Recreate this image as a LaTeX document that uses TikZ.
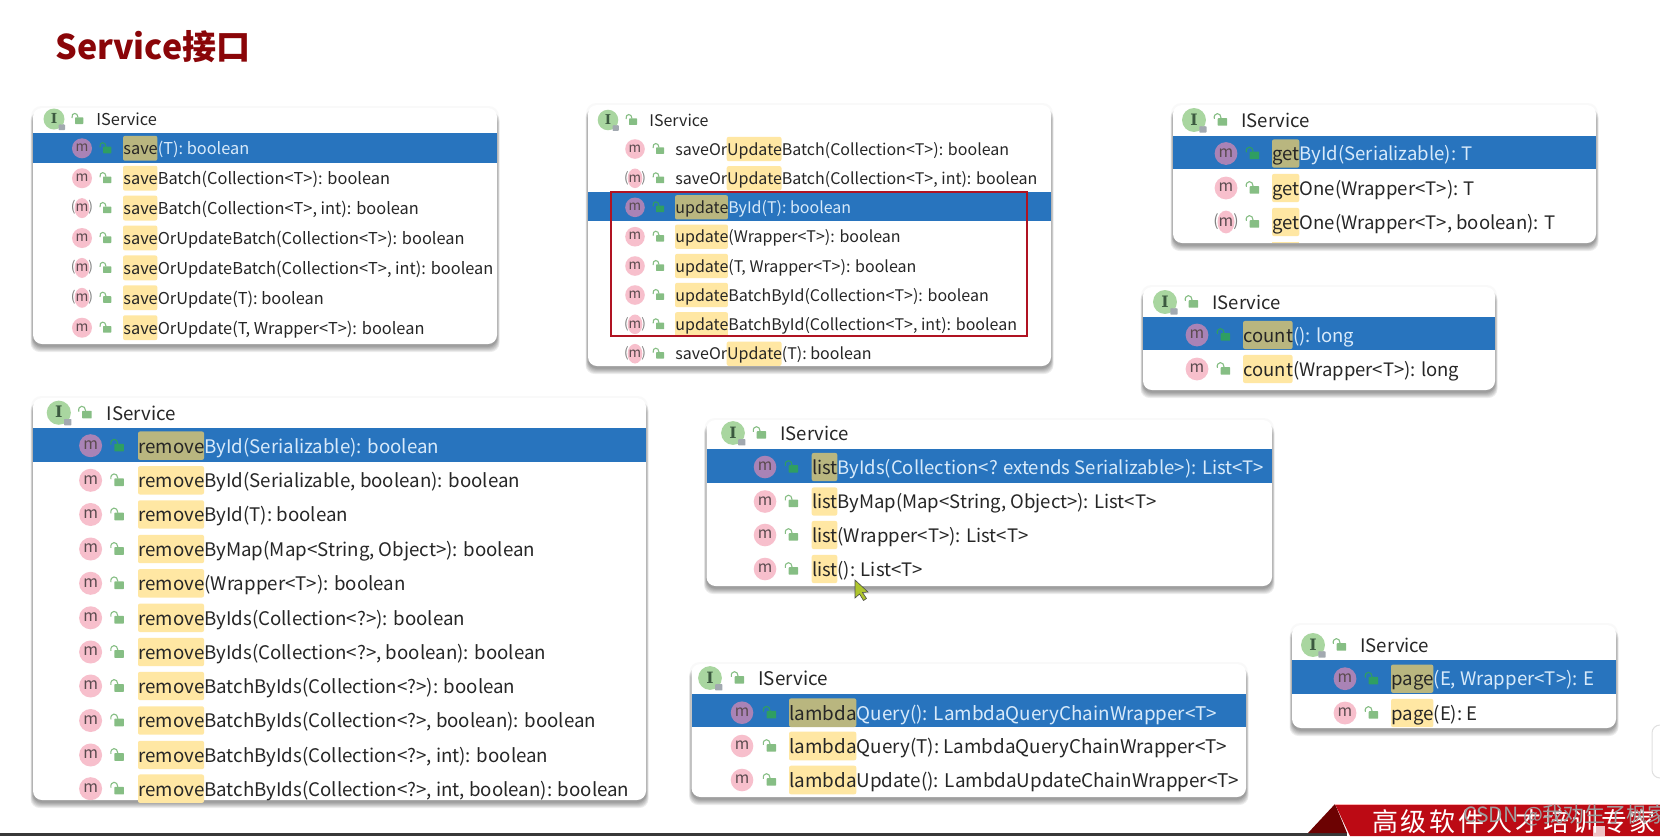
\documentclass[tikz,border=0pt]{standalone}
\usepackage{fontspec}
\newfontfamily\uf{Noto Sans CJK SC}
\newfontfamily\bannerf[LetterSpace=10]{Noto Sans CJK SC}
\newfontfamily\iconf{DejaVu Serif}
\definecolor{selband}{HTML}{2874BE}
\definecolor{hlnorm}{HTML}{FFE7A3}
\definecolor{hlsel}{HTML}{B9B67F}
\definecolor{txnorm}{HTML}{262626}
\definecolor{txsel}{HTML}{D8EAFA}
\definecolor{icnorm}{HTML}{F7BFCC}
\definecolor{icsel}{HTML}{A983B6}
\definecolor{mnorm}{HTML}{5A4A4E}
\definecolor{lknorm}{HTML}{86BE84}
\definecolor{lksel}{HTML}{2F9E62}
\definecolor{ifacefill}{HTML}{A9D6A0}
\definecolor{ifacetext}{HTML}{3C5A40}
\definecolor{glock}{HTML}{A2A9B0}
\definecolor{titlered}{HTML}{8A0508}
\definecolor{boxred}{HTML}{B01322}
\definecolor{bannerred}{HTML}{BC0A14}
\definecolor{bannerdark}{HTML}{6C0202}
\newsavebox\bxA
\newlength\lenA
\newlength\lenB
\newcounter{nid}
\newcommand\pf{\uf\fontsize{\pfs pt}{\pfs pt}\selectfont}
\newcommand\msr[1]{\pgfinterruptpicture\global\setbox\bxA\hbox{#1}\endpgfinterruptpicture}
% xI xLockHead xHead xIcon xLock xText scale refstring refwidth
\newcommand\setpanel[9]{%
  \def\xI{#1}\def\xLh{#2}\def\xH{#3}\def\xIc{#4}\def\xL{#5}\def\xT{#6}\def\ps{#7}%
  \msr{\uf\fontsize{10pt}{10pt}\selectfont #8}%
  \pgfmathsetmacro\pfs{5*#9/(\the\wd\bxA)}%
  \pgfmathsetmacro\mfs{6.9*\ps}%
}
\newcommand\lockic[3]{%
  \begin{scope}[shift={(#1,#2)},scale=\ps]
    \fill[#3,rounded corners=0.3pt] (-2,-1.6) rectangle (6.3,5);
    \draw[#3,line width=0.55pt] (1,-1.6) .. controls (1,-7) and (-6,-7) .. (-5,-1);
  \end{scope}}
\newcommand\panel[4]{%
  \fill[black,opacity=0.025,rounded corners=5pt] ({#1-2},{#2-2}) rectangle ({#3+2},{#4+2});
  \foreach \d in {5,4,3,2,1,0}{
    \fill[black,opacity=0.07,rounded corners=4.5pt] ({#1-0.5*\d},{#2+6-0.5*\d}) rectangle ({#3+0.5*\d},{#4+3+\d});
  }
  \fill[white,rounded corners=4.5pt] (#1,#2) rectangle (#3,#4);
}
\newcommand\band[4]{\fill[selband] (#1,#2) rectangle (#3,#4);}
\newcommand\head[1]{%
  \fill[ifacefill] (\xI,#1) circle[radius={10.5*\ps}];
  \stepcounter{nid}
  \node[inner sep=0pt,text=ifacetext] (n\arabic{nid}) at (\xI,{#1-0.5}) {\iconf\bfseries\fontsize{\mfs pt}{\mfs pt}\selectfont I};
  \begin{scope}[shift={(\xI,#1)},scale=\ps]
    \fill[glock,rounded corners=0.3pt] (4.6,5.5) rectangle (11,11);
    \draw[glock,line width=0.5pt] (6,5.5) arc[start angle=180,end angle=0,radius=1.8];
  \end{scope}
  \lockic{\xLh}{#1}{lknorm}
  \stepcounter{nid}
  \node[anchor=base west,inner sep=0pt,text=txnorm] (n\arabic{nid}) at (\xH,{#1+0.78*\pfs}) {\pf IService};
}
% y kind(0 normal,1 abstract,2 selected) prefix highlight rest
\newcommand\row[5]{%
  \msr{\pf #3}\setlength\lenA{\wd\bxA}%
  \msr{\pf #4}\setlength\lenB{\wd\bxA}\addtolength\lenB{\lenA}%
  \ifnum#2=2 \def\hlc{hlsel}\def\txc{txsel}\def\icc{icsel}\def\lkc{lksel}%
  \else \def\hlc{hlnorm}\def\txc{txnorm}\def\icc{icnorm}\def\lkc{lknorm}\fi
  \fill[\hlc,rounded corners=1pt] ([xshift=\lenA]\xT,{#1-1.52*\pfs}) rectangle ([xshift=\lenB]\xT,{#1+1.52*\pfs});
  \stepcounter{nid}
  \ifnum#2=1
    \fill[\icc] (\xIc,#1) ellipse[x radius={7.5*\ps},y radius={10*\ps}];
    \node[inner sep=0pt,text=mnorm] (n\arabic{nid}) at (\xIc,{#1-0.5}) {\uf\fontsize{\mfs pt}{\mfs pt}\selectfont{\color{gray}(}m{\color{gray})}};
  \else
    \fill[\icc] (\xIc,#1) circle[radius={10*\ps}];
    \node[inner sep=0pt,text=mnorm] (n\arabic{nid}) at (\xIc,{#1-0.5}) {\uf\fontsize{\mfs pt}{\mfs pt}\selectfont m};
  \fi
  \lockic{\xL}{#1}{\lkc}
  \stepcounter{nid}
  \node[anchor=base west,inner sep=0pt,text=\txc] (n\arabic{nid}) at (\xT,{#1+0.78*\pfs}) {\pf #3{\color{txnorm}#4}#5};
}
\begin{document}
\begin{tikzpicture}[x=0.5pt,y=-0.5pt]
\path[use as bounding box,clip] (0,0) rectangle (1660,836);
\fill[white] (0,0) rectangle (1660,836);

\node[anchor=base west,inner sep=0pt,text=titlered] (title) at (55,59) {\uf\bfseries\fontsize{17pt}{18pt}\selectfont Service接口};

% panel 1 save
\panel{33}{108}{497}{344}
\band{33}{133}{497}{162.5}
\setpanel{54}{77}{96}{82}{105}{123}{1}{saveOrUpdateBatch(Collection<T>, int): boolean}{370}
\head{119}
\row{148.3}{2}{}{save}{(T): boolean}
\row{178.2}{0}{}{save}{Batch(Collection<T>): boolean}
\row{208.1}{1}{}{save}{Batch(Collection<T>, int): boolean}
\row{238}{0}{}{save}{OrUpdateBatch(Collection<T>): boolean}
\row{267.9}{1}{}{save}{OrUpdateBatch(Collection<T>, int): boolean}
\row{297.8}{1}{}{save}{OrUpdate(T): boolean}
\row{327.7}{0}{}{save}{OrUpdate(T, Wrapper<T>): boolean}

% panel 2 update
\panel{588}{105}{1051}{366}
\band{588}{192}{1051}{221}
\setpanel{608}{631}{649}{635}{658}{675}{0.98}{saveOrUpdateBatch(Collection<T>, int): boolean}{362}
\head{120}
\row{149}{0}{saveOr}{Update}{Batch(Collection<T>): boolean}
\row{178.3}{1}{saveOr}{Update}{Batch(Collection<T>, int): boolean}
\row{207.3}{2}{}{update}{ById(T): boolean}
\row{236.7}{0}{}{update}{(Wrapper<T>): boolean}
\row{266}{0}{}{update}{(T, Wrapper<T>): boolean}
\row{295}{0}{}{update}{BatchById(Collection<T>): boolean}
\row{324.3}{1}{}{update}{BatchById(Collection<T>, int): boolean}
\row{353.7}{1}{saveOr}{Update}{(T): boolean}
\draw[boxred,line width=1pt] (611,192) rectangle (1027,336);

% panel 3 get
\panel{1173}{105}{1596}{243}
\band{1173}{136}{1596}{169.3}
\setpanel{1194}{1220}{1241}{1226}{1252}{1272}{1.14}{getOne(Wrapper<T>, boolean): T}{283}
\head{120}
\row{153.5}{2}{}{get}{ById(Serializable): T}
\row{188}{0}{}{get}{One(Wrapper<T>): T}
\row{222}{1}{}{get}{One(Wrapper<T>, boolean): T}
\fill[hlnorm] (1272,241.5) rectangle (1299,243);

% panel 4 count
\panel{1143}{287}{1495}{390}
\band{1143}{317}{1495}{350}
\setpanel{1165}{1191}{1212}{1197}{1223}{1243}{1.14}{count(Wrapper<T>): long}{216}
\head{302}
\row{335}{2}{}{count}{(): long}
\row{369}{0}{}{count}{(Wrapper<T>): long}

% panel 5 remove
\panel{33}{398}{646}{800}
\band{33}{428}{646}{461.7}
\setpanel{58.8}{84.5}{106.5}{90.6}{116.7}{138}{1.15}{removeBatchByIds(Collection<?>, int, boolean): boolean}{491}
\head{412.7}
\row{445.7}{2}{}{remove}{ById(Serializable): boolean}
\row{480.3}{0}{}{remove}{ById(Serializable, boolean): boolean}
\row{514.5}{0}{}{remove}{ById(T): boolean}
\row{549}{0}{}{remove}{ByMap(Map<String, Object>): boolean}
\row{583.3}{0}{}{remove}{(Wrapper<T>): boolean}
\row{617.8}{0}{}{remove}{ByIds(Collection<?>): boolean}
\row{652}{0}{}{remove}{ByIds(Collection<?>, boolean): boolean}
\row{686}{0}{}{remove}{BatchByIds(Collection<?>): boolean}
\row{720.5}{0}{}{remove}{BatchByIds(Collection<?>, boolean): boolean}
\row{755}{0}{}{remove}{BatchByIds(Collection<?>, int): boolean}
\row{788.7}{0}{}{remove}{BatchByIds(Collection<?>, int, boolean): boolean}

% panel 6 list
\panel{706.5}{420}{1272}{586}
\band{706.5}{449}{1272}{482.7}
\setpanel{733}{759}{780}{765}{791}{811.7}{1.13}{listByIds(Collection<? extends Serializable>): List<T>}{452}
\head{433}
\row{467}{2}{}{list}{ByIds(Collection<? extends Serializable>): List<T>}
\row{501.5}{0}{}{list}{ByMap(Map<String, Object>): List<T>}
\row{535}{0}{}{list}{(Wrapper<T>): List<T>}
\row{569}{0}{}{list}{(): List<T>}
\filldraw[fill=yellow!75!green!85!black,draw=black!70,line width=0.3pt] (855,580) -- (855,598) -- (859.5,594) -- (863.5,600.5) -- (866.5,598.5) -- (862.5,592.5) -- (868,592) -- cycle;

% panel 7 lambda
\panel{691.5}{664}{1246}{797}
\band{691.5}{694}{1246}{727}
\setpanel{710}{737}{758}{742}{769}{789}{1.13}{lambdaUpdate(): LambdaUpdateChainWrapper<T>}{450}
\head{678}
\row{712.7}{2}{}{lambda}{Query(): LambdaQueryChainWrapper<T>}
\row{746}{0}{}{lambda}{Query(T): LambdaQueryChainWrapper<T>}
\row{780}{0}{}{lambda}{Update(): LambdaUpdateChainWrapper<T>}

% panel 8 page
\panel{1292}{625}{1616}{728}
\band{1292}{660}{1616}{694}
\setpanel{1313}{1339}{1360}{1345}{1371}{1391}{1.14}{page(E, Wrapper<T>): E}{203}
\head{645}
\row{678.7}{2}{}{page}{(E, Wrapper<T>): E}
\row{713}{0}{}{page}{(E): E}

% edge of a cut-off widget on the right
\filldraw[fill=white,draw=black!12,line width=0.5pt,rounded corners=4pt] (1670,725) -- (1652,725) -- (1652,778) -- (1670,778);

% banner
\fill[black!78] (0,833) rectangle (1347,836);
\fill[bannerdark] (1335,804) -- (1308,833) -- (1347,833) -- cycle;
\fill[bannerred] (1335,804) -- (1660,804) -- (1660,836) -- (1350,836) -- cycle;
\draw[red!30!white,line width=0.4pt] (1335,804) -- (1660,804);
\node[anchor=west,inner sep=0pt,text=white] (banner) at (1372,821.5) {\bannerf\fontsize{13pt}{14pt}\selectfont 高级软件人才培训专家};
\fill[white,opacity=0.75] (1593,826) rectangle (1605,836);
\node[anchor=west,inner sep=0pt,text=white!62!black] (mark) at (1463,815) {\uf\fontsize{10.5pt}{11pt}\selectfont CSDN @我劝生了枫家};
\end{tikzpicture}
\end{document}
